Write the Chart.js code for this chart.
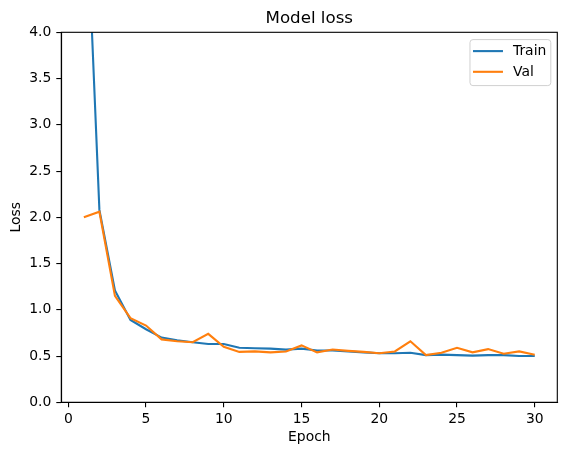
<!DOCTYPE html>
<html>
<head>
<meta charset="utf-8">
<script src="https://cdn.jsdelivr.net/npm/chart.js@4/dist/chart.umd.min.js"></script>
<style>
  html, body { margin: 0; padding: 0; background: #fff; }
  #wrap { width: 567px; height: 455px; }
</style>
</head>
<body>
<div id="wrap"><canvas id="c" width="567" height="455"></canvas></div>
<script>
const epochs = [1,2,3,4,5,6,7,8,9,10,11,12,13,14,15,16,17,18,19,20,21,22,23,24,25,26,27,28,29,30];
const trainLoss = [6.1,2.08,1.21,0.89,0.79,0.70,0.67,0.65,0.63,0.63,0.59,0.585,0.58,0.57,0.58,0.56,0.56,0.55,0.54,0.53,0.53,0.535,0.51,0.515,0.51,0.505,0.51,0.51,0.50,0.50];
const valLoss = [2.0,2.06,1.15,0.91,0.83,0.68,0.66,0.65,0.74,0.60,0.545,0.55,0.54,0.55,0.615,0.54,0.57,0.556,0.545,0.53,0.55,0.66,0.51,0.535,0.59,0.54,0.575,0.525,0.55,0.515];
const xTicks = [0,5,10,15,20,25,30];
const yTicks = [0.0,0.5,1.0,1.5,2.0,2.5,3.0,3.5,4.0];
const seriesNames = ['Train','Val'];
const seriesColors = ['#1f77b4','#ff7f0e'];

const FONT = 'DejaVu Sans';
Chart.defaults.color = '#000';
Chart.defaults.font.family = FONT;

const framePlugin = {
  id: 'frame',
  afterDatasetsDraw(chart) {
    const a = chart.chartArea, ctx = chart.ctx;
    ctx.save();
    ctx.strokeStyle = '#000';
    ctx.lineWidth = 1.1;
    ctx.strokeRect(a.left, a.top, a.right - a.left, a.bottom - a.top);
    ctx.restore();
  }
};

const legendPlugin = {
  id: 'mplLegend',
  afterDraw(chart) {
    const a = chart.chartArea, ctx = chart.ctx;
    const fs = 13.9;
    ctx.save();
    ctx.font = fs + 'px "' + FONT + '"';
    const names = chart.data.datasets.map(d => d.label);
    const tw = Math.max(...names.map(n => ctx.measureText(n).width));
    const right = a.right - 7;
    const top = a.top + 6.8;
    const w = 43.5 + tw + 4;
    const h = 46;
    const left = right - w;
    ctx.beginPath();
    if (ctx.roundRect) ctx.roundRect(left + 0.5, top + 0.5, w, h, 3); else ctx.rect(left + 0.5, top + 0.5, w, h);
    ctx.fillStyle = 'rgba(255,255,255,0.8)';
    ctx.fill();
    ctx.strokeStyle = '#d0d0d0';
    ctx.lineWidth = 1;
    ctx.stroke();
    chart.data.datasets.forEach((d, i) => {
      const y = top + 12 + i * 20.7;
      ctx.beginPath();
      ctx.moveTo(left + 3.5, y);
      ctx.lineTo(left + 33.5, y);
      ctx.strokeStyle = d.borderColor;
      ctx.lineWidth = 2.1;
      ctx.stroke();
      ctx.fillStyle = '#000';
      ctx.textBaseline = 'middle';
      ctx.textAlign = 'left';
      ctx.fillText(d.label, left + 43.5, y + 0.5);
    });
    ctx.restore();
  }
};

new Chart(document.getElementById('c'), {
  type: 'line',
  data: {
    datasets: [
      { label: seriesNames[0], data: epochs.map((e, i) => ({x: e, y: trainLoss[i]})), borderColor: seriesColors[0], backgroundColor: seriesColors[0], borderWidth: 2.1, pointRadius: 0, tension: 0, order: 1 },
      { label: seriesNames[1], data: epochs.map((e, i) => ({x: e, y: valLoss[i]})), borderColor: seriesColors[1], backgroundColor: seriesColors[1], borderWidth: 2.1, pointRadius: 0, tension: 0, order: 0 }
    ]
  },
  options: {
    responsive: false,
    animation: false,
    devicePixelRatio: 1,
    layout: { padding: { left: 0, right: 9.7, top: 0, bottom: 0 } },
    plugins: {
      legend: { display: false },
      tooltip: { enabled: false },
      title: {
        display: true,
        text: 'Model loss',
        fullSize: false,
        color: '#000',
        font: { family: FONT, size: 16.67, weight: 'normal' },
        padding: { top: 9, bottom: 3.3 }
      }
    },
    scales: {
      x: {
        type: 'linear',
        min: -0.45,
        max: 31.45,
        afterBuildTicks(s) { s.ticks = xTicks.map(v => ({ value: v })); },
        afterFit(s) { s.height = 52.7; },
        grid: { drawOnChartArea: false, drawTicks: true, tickLength: 5, color: '#000', lineWidth: 1.1 },
        border: { display: true, color: '#000', width: 1.1 },
        ticks: { color: '#000', font: { family: FONT, size: 13.9 }, padding: 4, maxRotation: 0, autoSkip: false, callback: v => String(v) },
        title: { display: true, text: 'Epoch', color: '#000', font: { family: FONT, size: 13.9 }, padding: { top: 0, bottom: 9 } }
      },
      y: {
        type: 'linear',
        min: 0,
        max: 4,
        afterBuildTicks(s) { s.ticks = yTicks.map(v => ({ value: v })); },
        afterFit(s) { s.width = 61.3; },
        grid: { drawOnChartArea: false, drawTicks: true, tickLength: 5, color: '#000', lineWidth: 1.1 },
        border: { display: true, color: '#000', width: 1.1 },
        ticks: { color: '#000', font: { family: FONT, size: 13.9 }, padding: 5, autoSkip: false, callback: v => Number(v).toFixed(1) },
        title: { display: true, text: 'Loss', color: '#000', font: { family: FONT, size: 13.9 }, padding: { top: 8, bottom: 0 } }
      }
    }
  },
  plugins: [framePlugin, legendPlugin]
});
</script>
</body>
</html>
